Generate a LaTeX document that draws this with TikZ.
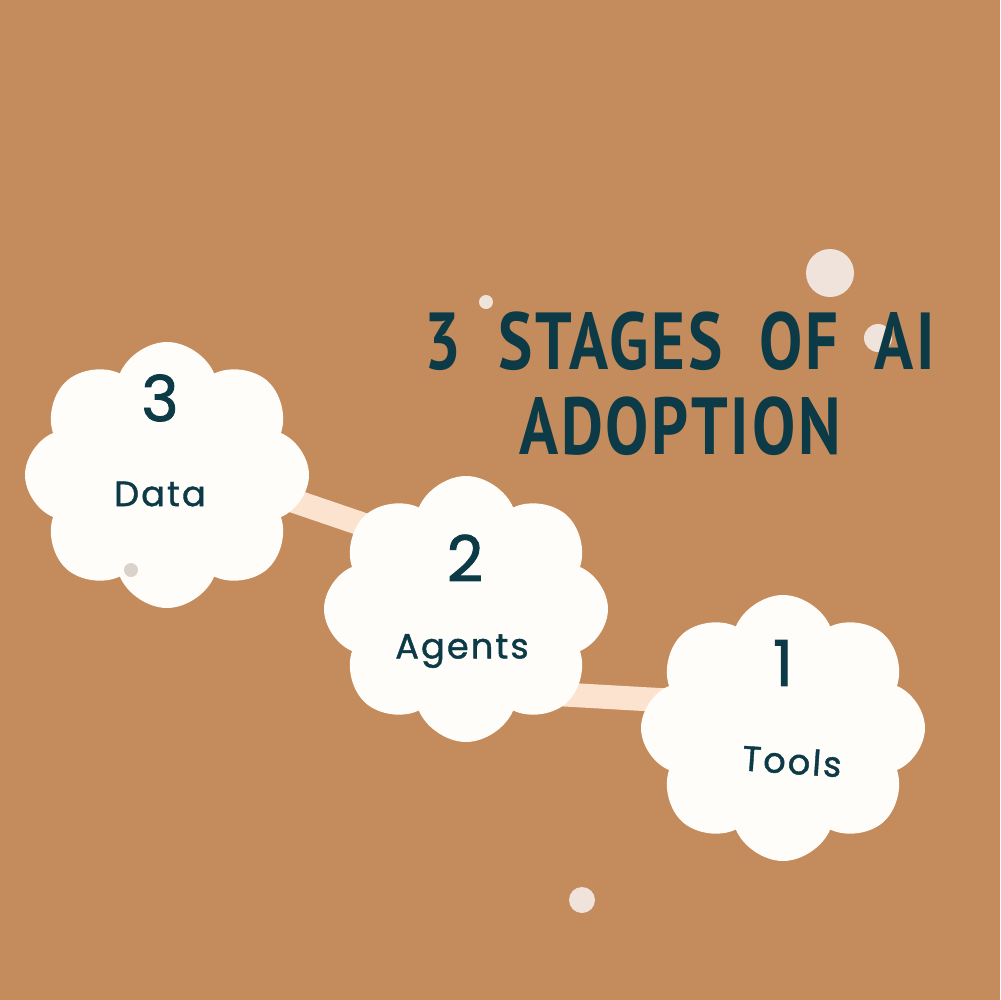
\documentclass[tikz,border=0pt]{standalone}
\usepackage{fontspec}
\usetikzlibrary{shapes.symbols}
\newfontfamily\titlefont[LetterSpace=3.5,WordSpace=1.9,FakeStretch=0.8]{PT Sans}
\newfontfamily\handfont[LetterSpace=6,FakeBold=1.2]{Poppins}
\newfontfamily\digitfont[FakeBold=1.5]{Poppins}
\definecolor{bgbrown}{HTML}{C48C5C}
\definecolor{cloudwhite}{HTML}{FFFDF9}
\definecolor{linkpeach}{HTML}{FCE3D0}
\definecolor{inkteal}{HTML}{0D3A47}
\definecolor{speck}{HTML}{EFE3DC}
\definecolor{greyspeck}{HTML}{DCD2CC}
\begin{document}
\begin{tikzpicture}[x=0.1mm,y=-0.1mm]
    \tikzstyle{stage}=[cloud, cloud puffs=8, cloud puff arc=135, aspect=1, fill=cloudwhite, minimum width=28.4mm, minimum height=26.6mm, inner sep=0pt];
    \tikzstyle{num}=[text=inkteal, font=\digitfont\fontsize{18}{20}\selectfont];
    \tikzstyle{word}=[text=inkteal, font=\handfont\fontsize{10}{12}\selectfont];
    \tikzstyle{link}=[draw=linkpeach, line width=6.8pt];
    \tikzstyle{dot}=[fill=speck];

    \fill[bgbrown] (0,0) rectangle (1000,1000);
    \useasboundingbox (0,0) rectangle (1000,1000);

    % connector ends
    \coordinate (l3) at (165,457);
    \coordinate (l2a) at (467,560);
    \coordinate (l2b) at (467,689);
    \coordinate (l1) at (783,707);
    \draw[link] (l3) -- (l2a);
    \draw[link] (l2b) -- (l1);

    % stages
    \node (data) at (167,475) [stage] {};
    \node (agents) at (466,609) [stage] {};
    \node (tools) at (783,728) [stage] {};

    \node (n3) at (160,398) [num] {3};
    \node (w3) at (160,494) [word] {Data};
    \node (n2) at (465,558) [num] {2};
    \node (w2) at (462,651) [word] {Agents};
    \node (n1) at (783,663) [num] {1};
    \node (w1) at (792,761) [word, rotate=-4] {Tools};

    % specks
    \fill[dot] (830,273) circle (24);
    \fill[dot] (486,302) circle (7);
    \fill[dot] (878,338) circle (14);
    \fill[greyspeck] (131,570) circle (7);
    \fill[dot] (582,900) circle (13);

    \node (title) at (680,384) [text=inkteal, align=center, font=\titlefont\bfseries\fontsize{23}{24.2}\selectfont] {3 STAGES OF AI\\ADOPTION};
\end{tikzpicture}
\end{document}
